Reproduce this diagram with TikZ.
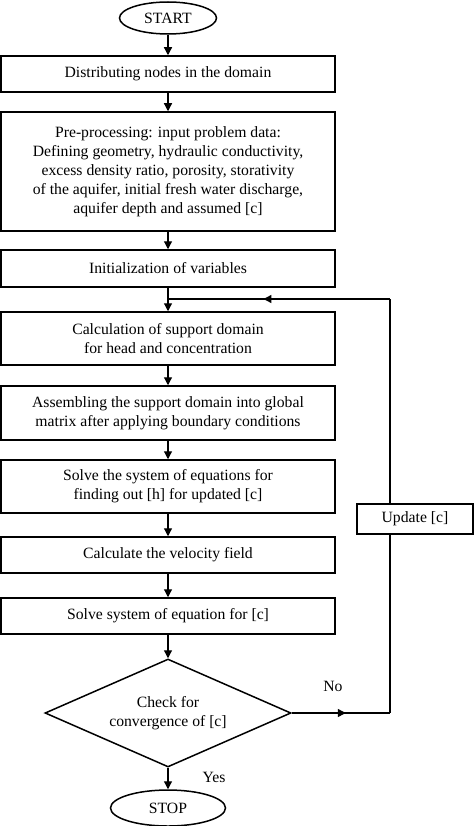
\documentclass[tikz,border=0pt]{standalone}
\usepackage{fontspec}
\setmainfont{Liberation Serif}
\usetikzlibrary{shapes.geometric,arrows.meta,decorations.markings}
\begin{document}
\begin{tikzpicture}[x=1pt,y=-1pt,
  every node/.style={font=\fontsize{15.7}{19}\selectfont},
  procbox/.style={draw,line width=1.5pt,minimum width=334pt,inner sep=0pt,align=center},
  term/.style={draw,ellipse,line width=1.5pt,inner sep=0pt},
  flow/.style={line width=1.2pt,-{Triangle[length=8pt,width=8pt]}},
  plain/.style={line width=1.2pt},
  midarrow/.style={postaction={decorate},decoration={markings,mark=at position #1 with {\arrow{Triangle[length=8pt,width=8pt]}}}}
]
\useasboundingbox (0,0) rectangle (474,826);
\node[term,minimum width=97pt,minimum height=32pt] (start) at (168,18) {START};
\node[procbox,minimum height=36pt] (b1) at (168,74) {Distributing nodes in the domain};
\node[procbox,minimum height=119pt] (b2) at (168,171.5) {Pre-processing: input problem data:\\Defining geometry, hydraulic conductivity,\\excess density ratio, porosity, storativity\\of the aquifer, initial fresh water discharge,\\aquifer depth and assumed [c]};
\node[procbox,minimum height=37pt] (b3) at (168,268.5) {Initialization of variables};
\node[procbox,minimum height=53pt] (b4) at (168,338.5) {Calculation of support domain\\for head and concentration};
\node[procbox,minimum height=54pt] (b5) at (168,413) {Assembling the support domain into global\\matrix after applying boundary conditions};
\node[procbox,minimum height=53pt] (b6) at (168,486.5) {Solve the system of equations for\\finding out [h] for updated [c]};
\node[procbox,minimum height=36pt] (b7) at (168,555) {Calculate the velocity field};
\node[procbox,minimum height=36pt] (b8) at (168,616) {Solve system of equation for [c]};
\node[draw,diamond,aspect=2.28,line width=1.5pt,inner sep=0pt,minimum width=246pt,minimum height=108pt,align=center] (dia) at (168,713) {Check for\\convergence of [c]};
\node[term,minimum width=115pt,minimum height=36pt] (stop) at (168,808) {STOP};
\node[draw,line width=1.5pt,minimum width=116pt,minimum height=30pt,inner sep=0pt] (upd) at (415,519) {Update [c]};
\node (no) at (333,686) {No};
\node (yes) at (214,777) {Yes};
\coordinate (c1) at (390,713);
\coordinate (c2) at (390,299);
\coordinate (j) at (168,299);
\draw[flow] (start) -- (b1);
\draw[flow] (b1) -- (b2);
\draw[flow] (b2) -- (b3);
\draw[flow] (b3) -- (b4);
\draw[flow] (b4) -- (b5);
\draw[flow] (b5) -- (b6);
\draw[flow] (b6) -- (b7);
\draw[flow] (b7) -- (b8);
\draw[flow] (b8) -- (dia);
\draw[flow] (dia) -- (stop);
\draw[plain,midarrow=0.55] (dia.east) -- (c1);
\draw[plain] (c1) -- (upd.south -| c1);
\draw[plain] (upd.north -| c1) -- (c2);
\draw[plain,midarrow=0.57] (c2) -- (j);
\end{tikzpicture}
\end{document}
